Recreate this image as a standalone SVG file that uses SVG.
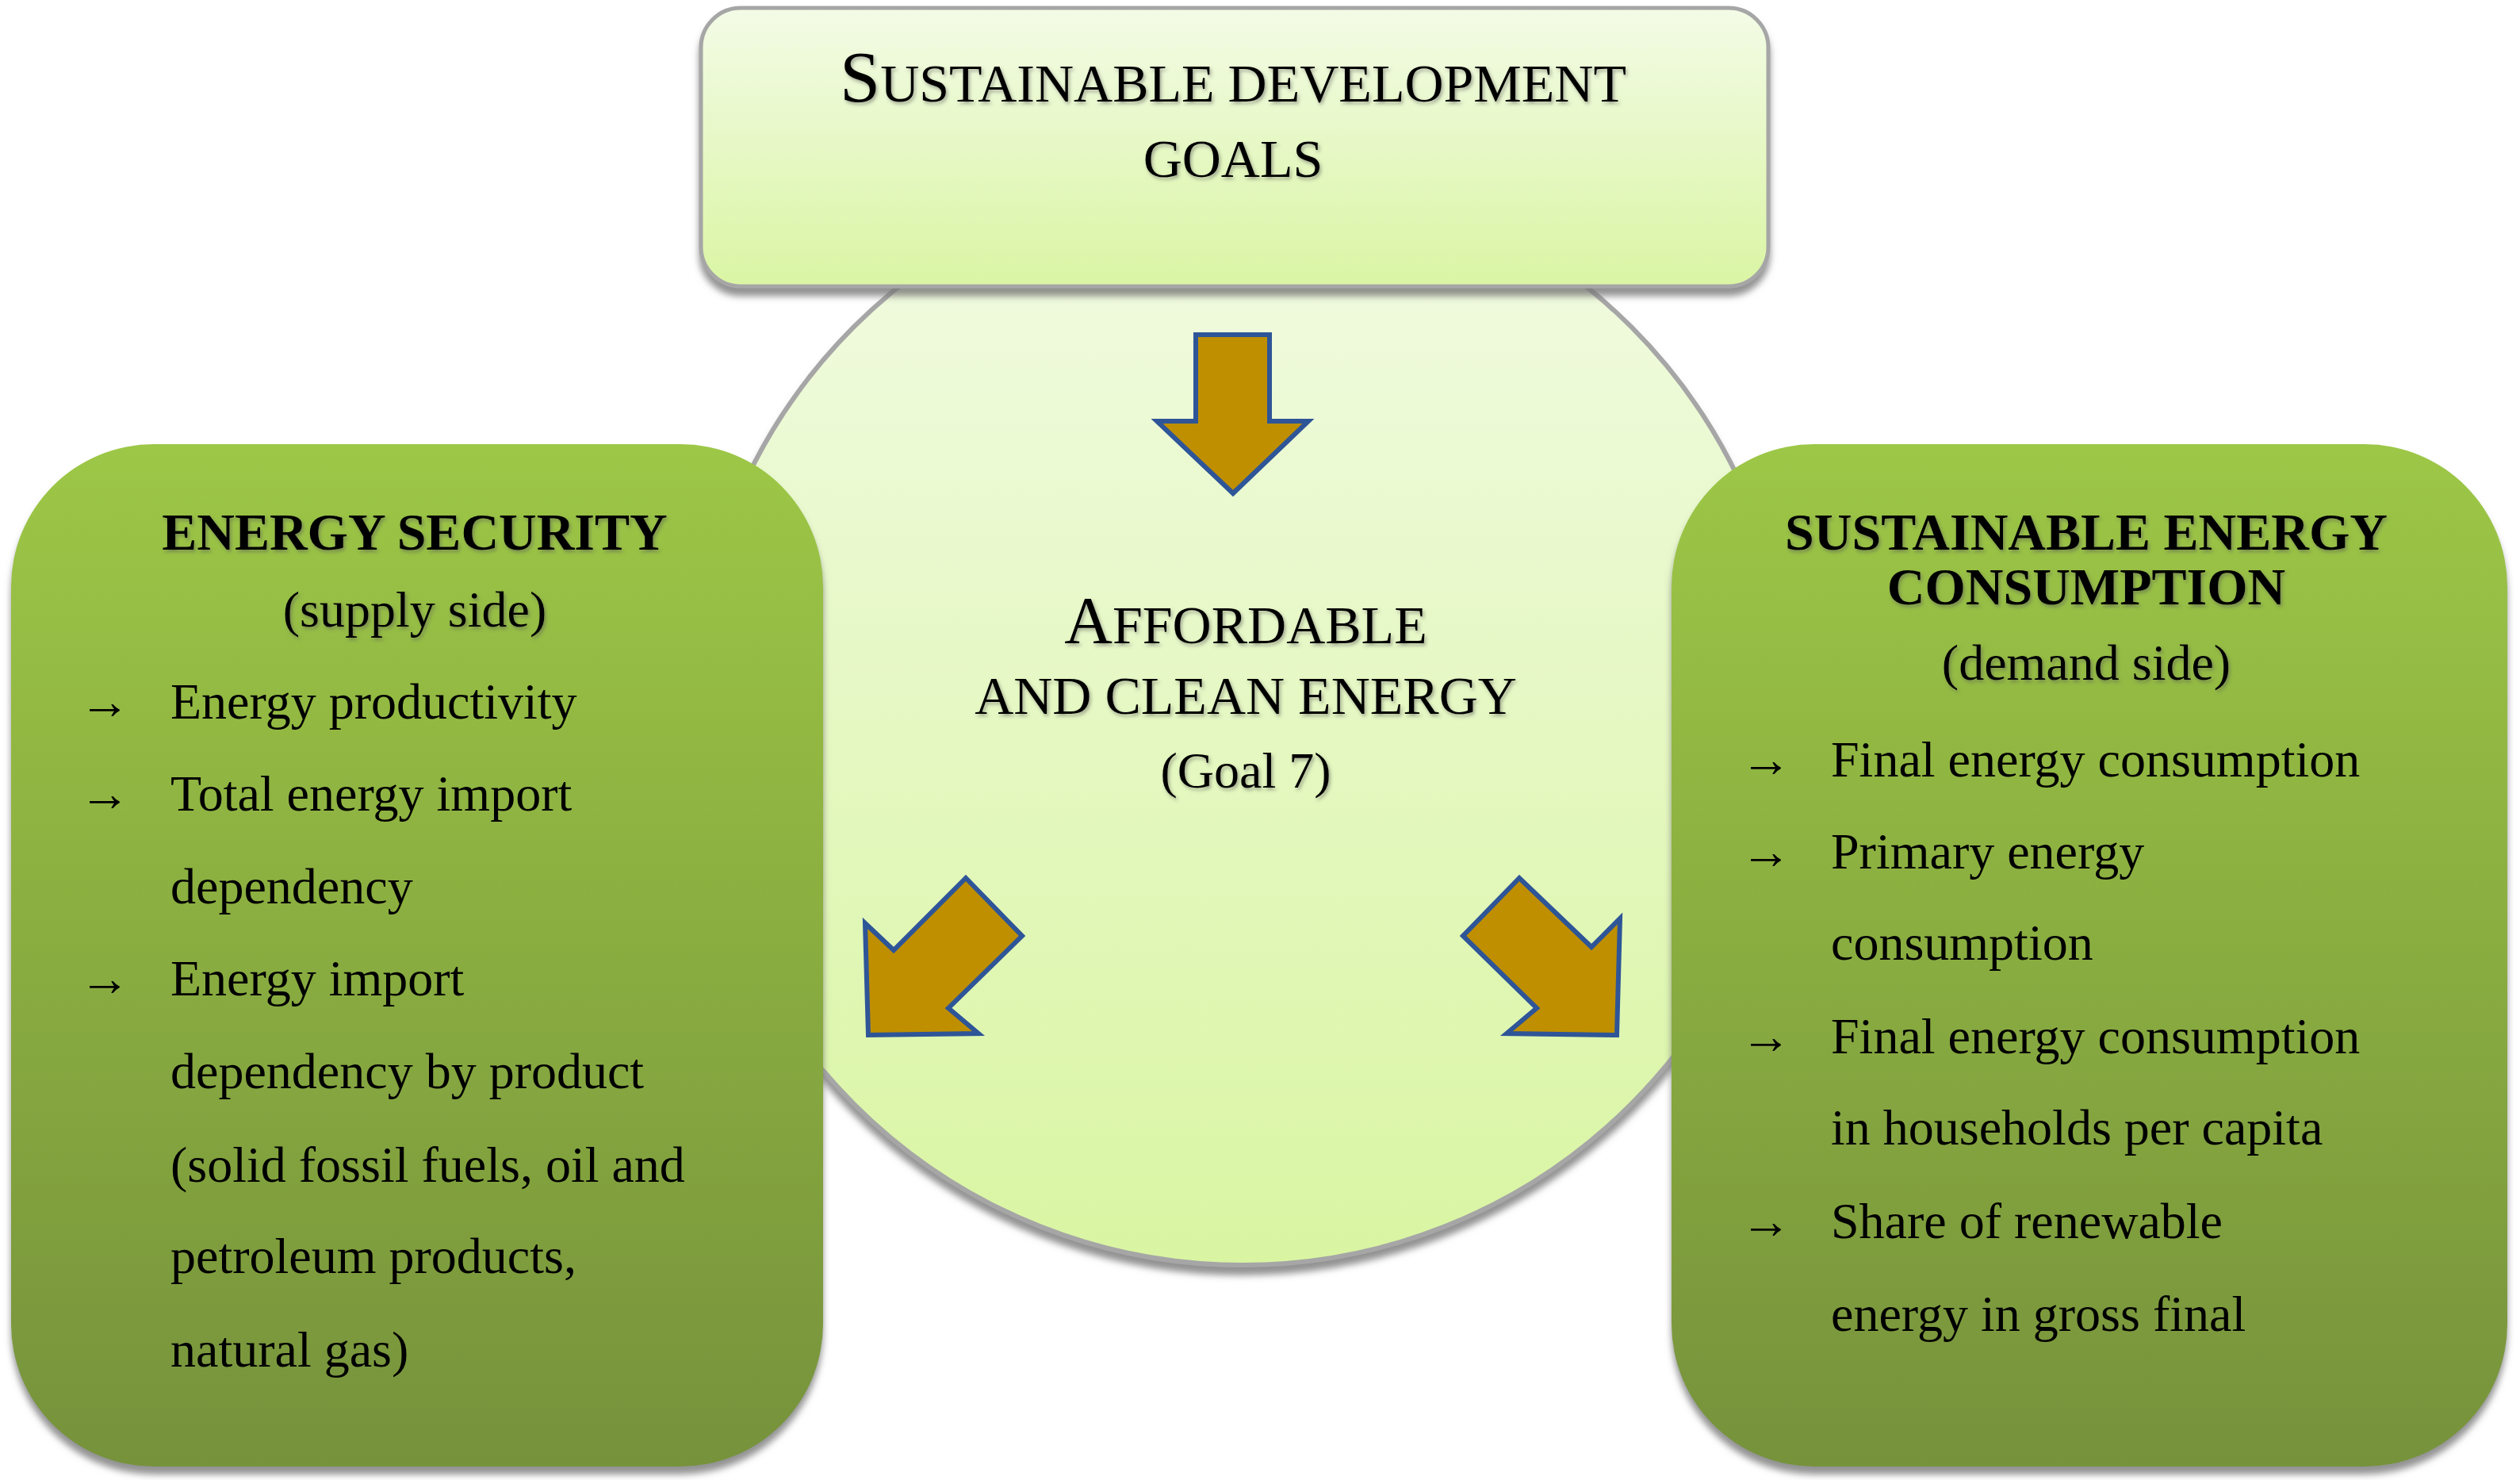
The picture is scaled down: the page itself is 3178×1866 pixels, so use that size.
<svg xmlns="http://www.w3.org/2000/svg" width="3178" height="1866" viewBox="0 0 3178 1866">
<defs>
<linearGradient id="gTop" x1="0" y1="0" x2="0" y2="1"><stop offset="0" stop-color="#f3fbe6"/><stop offset="1" stop-color="#daf5a4"/></linearGradient>
<linearGradient id="gCirc" x1="0" y1="0" x2="0" y2="1"><stop offset="0" stop-color="#f2fbe4"/><stop offset="1" stop-color="#d9f5a2"/></linearGradient>
<linearGradient id="gSide" x1="0" y1="0" x2="0" y2="1"><stop offset="0" stop-color="#9dc746"/><stop offset="1" stop-color="#76923b"/></linearGradient>
<filter id="sh" x="-5%" y="-5%" width="110%" height="115%"><feDropShadow dx="0" dy="10" stdDeviation="4" flood-color="#777" flood-opacity="0.8"/></filter>
<filter id="ts"><feDropShadow dx="2" dy="3" stdDeviation="2" flood-color="#555" flood-opacity="0.5"/></filter>
<style>
text{font-family:"Liberation Serif","DejaVu Serif",serif;fill:#000;}
.t{filter:url(#ts);}
.b{font-size:64px;}
.h{font-size:66px;font-weight:bold;text-anchor:middle;}
.c{text-anchor:middle;}
.arr{fill:#bf8f00;stroke:#2e5597;stroke-width:6;stroke-linejoin:miter;}
</style>
</defs>
<g id="circle"><circle cx="1567" cy="902" r="693" fill="url(#gCirc)" stroke="#a6a6a6" stroke-width="6" filter="url(#sh)"/></g>
<g id="top">
<rect x="884" y="10" width="1346" height="351" rx="50" fill="url(#gTop)" stroke="#a6a6a6" stroke-width="5" filter="url(#sh)"/>
<text class="c t" x="1555" y="128" font-size="68"><tspan font-size="92">S</tspan>USTAINABLE DEVELOPMENT</text>
<text class="c t" x="1555" y="223" font-size="68">GOALS</text>
</g>
<g id="left">
<rect x="14" y="560" width="1024" height="1289" rx="180" fill="url(#gSide)" filter="url(#sh)"/>
<text class="h t" x="523" y="693">ENERGY SECURITY</text>
<text class="c t b" x="523" y="790">(supply side)</text>
<g class="b">
<text x="100" y="906">→</text><text x="215" y="906">Energy productivity</text>
<text x="100" y="1022">→</text><text x="215" y="1022">Total energy import</text>
<text x="215" y="1139">dependency</text>
<text x="100" y="1255">→</text><text x="215" y="1255">Energy import</text>
<text x="215" y="1372">dependency by product</text>
<text x="215" y="1490">(solid fossil fuels, oil and</text>
<text x="215" y="1605">petroleum products,</text>
<text x="215" y="1723">natural gas)</text>
</g>
</g>
<g id="right">
<rect x="2108" y="560" width="1054" height="1289" rx="180" fill="url(#gSide)" filter="url(#sh)"/>
<text class="h t" x="2631" y="693">SUSTAINABLE ENERGY</text>
<text class="h t" x="2631" y="762">CONSUMPTION</text>
<text class="c t b" x="2631" y="857">(demand side)</text>
<g class="b">
<text x="2195" y="979">→</text><text x="2309" y="979">Final energy consumption</text>
<text x="2195" y="1095">→</text><text x="2309" y="1095">Primary energy</text>
<text x="2309" y="1210">consumption</text>
<text x="2195" y="1328">→</text><text x="2309" y="1328">Final energy consumption</text>
<text x="2309" y="1443">in households per capita</text>
<text x="2195" y="1561">→</text><text x="2309" y="1561">Share of renewable</text>
<text x="2309" y="1678">energy in gross final</text>
</g>
</g>
<g id="center">
<text class="c t" x="1571" y="811" font-size="68"><tspan font-size="84">A</tspan>FFORDABLE</text>
<text class="c t" x="1571" y="900" font-size="68">AND CLEAN ENERGY</text>
<text class="c t b" x="1571" y="993">(Goal 7)</text>
</g>
<g id="connectors">
<polygon class="arr" points="1508,422 1601,422 1601,531 1650,531 1555,622 1459,531 1508,531"/>
<polygon class="arr" points="1218,1107 1289,1180 1196,1271 1234,1303 1095,1305 1091,1164 1127,1198"/>
<polygon class="arr" points="1916,1107 1845,1180 1938,1271 1900,1303 2039,1305 2043,1158 2007,1194"/>
</g>
</svg>
